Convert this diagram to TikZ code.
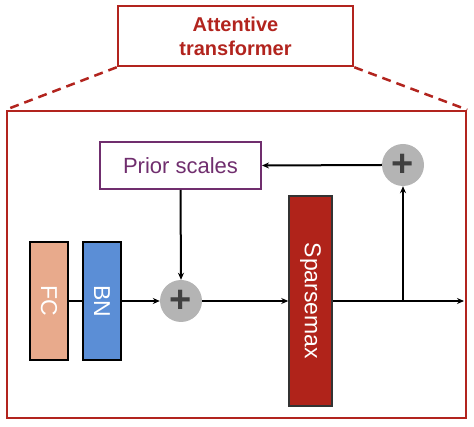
\documentclass[tikz,border=0pt]{standalone}
\usepackage{fontspec}
\setmainfont{Liberation Sans}
\usetikzlibrary{arrows.meta}

\definecolor{framered}{RGB}{178,36,30}
\definecolor{sparsered}{RGB}{176,35,26}
\definecolor{fcsalmon}{RGB}{232,170,140}
\definecolor{bnblue}{RGB}{91,142,214}
\definecolor{priorpurple}{RGB}{112,46,110}
\definecolor{addgray}{RGB}{180,180,180}
\definecolor{plusgray}{RGB}{64,64,64}

\tikzset{
  layerbox/.style={draw=black, line width=2pt, minimum width=118pt, minimum height=38pt,
    text=white, rotate=-90, font=\fontsize{23}{23}\selectfont, inner sep=0pt},
  addnode/.style={circle, fill=addgray, minimum size=42pt, inner sep=0pt,
    text=plusgray, font=\fontsize{38}{38}\selectfont\bfseries},
  flow/.style={line width=2pt, -{Stealth[length=7pt,width=6pt]}},
}

\begin{document}
\begin{tikzpicture}[x=1pt,y=-1pt]
\useasboundingbox (0,0) rectangle (474,427);

% The zoomed block and its frame
\node[draw=framered, line width=2.5pt, minimum width=235pt, minimum height=60pt, align=center,
  text=framered, font=\fontsize{20}{24}\selectfont\bfseries] (title) at (235.5,36)
  {Attentive\\transformer};
\node[draw=framered, line width=2.5pt, minimum width=459pt, minimum height=307pt] (frame) at (236.5,264.5) {};
\draw[framered, line width=2.5pt, dash pattern=on 9pt off 6pt] (title.south west) -- (frame.north west);
\draw[framered, line width=2.5pt, dash pattern=on 9pt off 6pt] (title.south east) -- (frame.north east);

% The layers
\node[layerbox, fill=fcsalmon] (fc) at (49,301) {FC};
\node[layerbox, fill=bnblue] (bn) at (102,301) {BN};
\node[addnode] (addA) at (181,301) {+};
\node[draw=black!80, line width=1.5pt, fill=sparsered, rotate=-90, minimum width=210pt, minimum height=43pt,
  text=white, font=\fontsize{23}{23}\selectfont, inner sep=0pt] (sparse) at (310.5,301) {Sparsemax};
\node[addnode] (addB) at (403,165) {+};
\node[draw=priorpurple, line width=2pt, minimum width=161pt, minimum height=47pt,
  text=priorpurple, font=\fontsize{22}{22}\selectfont] (prior) at (180.5,165.5) {Prior scales};

\coordinate (out) at (464,301);
\coordinate (branch) at (403,301);

% The connectors
\draw[line width=2pt] (fc.north) -- (bn.south);
\draw[flow] (bn.north) -- (addA.west);
\draw[flow] (prior.south) -- (addA.north);
\draw[flow] (addA.east) -- (sparse.south);
\draw[flow] (sparse.north) -- (out);
\draw[flow] (branch) -- (addB.south);
\draw[flow] (addB.west) -- (prior.east);

\end{tikzpicture}
\end{document}
